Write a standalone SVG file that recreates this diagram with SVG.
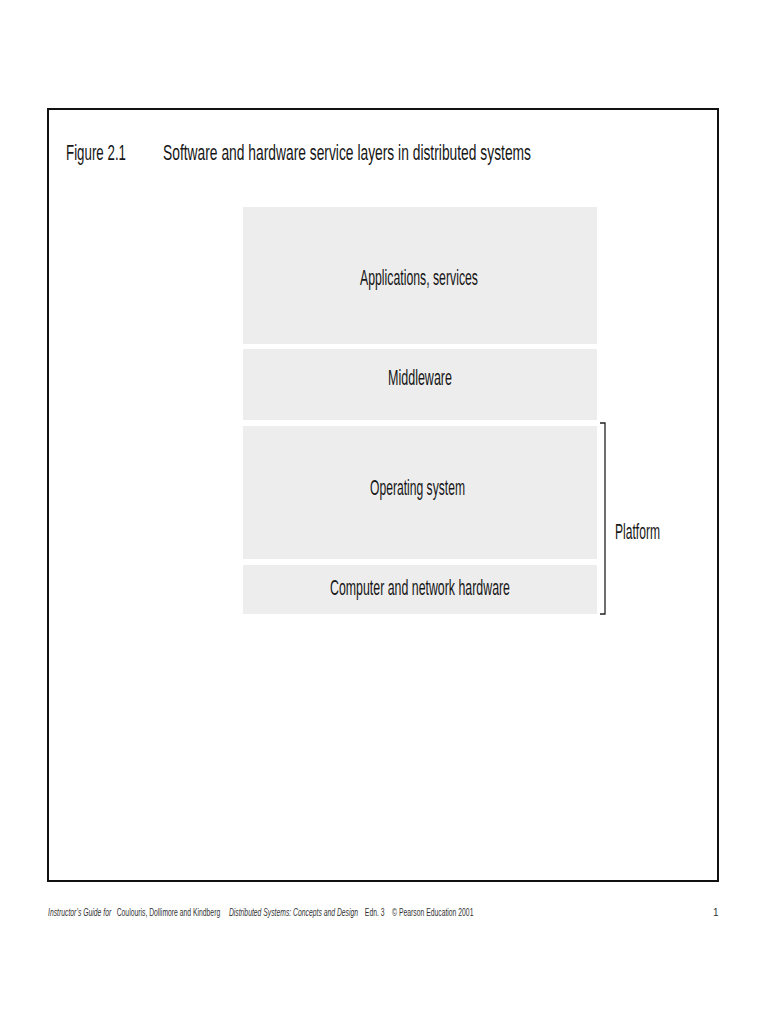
<svg xmlns="http://www.w3.org/2000/svg" width="768" height="1024" viewBox="0 0 768 1024">
<style>
.t{font-family:"Liberation Sans",Arial,sans-serif;fill:#161616}
.lbl{font-size:22px}
.box{fill:#ededed}
.ft{font-family:"Liberation Sans",Arial,sans-serif;font-size:10px;fill:#333}
.it{font-style:italic}
</style>
<rect x="0" y="0" width="768" height="1024" fill="#ffffff"/>
<rect id="frame" x="48" y="109" width="670" height="772" fill="none" stroke="#111" stroke-width="2"/>
<g id="title">
<text class="t lbl" x="66" y="160" textLength="60" lengthAdjust="spacingAndGlyphs">Figure 2.1</text>
<text class="t lbl" x="163" y="160" textLength="368" lengthAdjust="spacingAndGlyphs">Software and hardware service layers in distributed systems</text>
</g>
<g id="applications">
<rect class="box" x="243" y="207" width="354" height="137"/>
<text class="t lbl" x="360" y="285" textLength="118" lengthAdjust="spacingAndGlyphs">Applications, services</text>
</g>
<g id="middleware">
<rect class="box" x="243" y="349" width="354" height="71"/>
<text class="t lbl" x="388" y="385" textLength="64" lengthAdjust="spacingAndGlyphs">Middleware</text>
</g>
<g id="os">
<rect class="box" x="243" y="426" width="354" height="133"/>
<text class="t lbl" x="370" y="495" textLength="95" lengthAdjust="spacingAndGlyphs">Operating system</text>
</g>
<g id="hardware">
<rect class="box" x="243" y="565" width="354" height="49"/>
<text class="t lbl" x="330" y="595" textLength="180" lengthAdjust="spacingAndGlyphs">Computer and network hardware</text>
</g>
<g id="connectors">
<path d="M600,423 H605 V614 H600" fill="none" stroke="#222" stroke-width="1.3"/>
</g>
<g id="platform">
<text class="t lbl" x="615" y="539" textLength="45" lengthAdjust="spacingAndGlyphs">Platform</text>
</g>
<g id="footer">
<text class="ft" transform="translate(48,916) scale(0.68,1)"><tspan class="it" x="0">Instructor’s Guide for</tspan><tspan x="101">Coulouris, Dollimore and Kindberg</tspan><tspan class="it" x="266">Distributed Systems: Concepts and Design</tspan><tspan x="466">Edn. 3</tspan><tspan x="506">© Pearson Education 2001</tspan></text>
<text class="ft" x="713" y="916">1</text>
</g>
</svg>
